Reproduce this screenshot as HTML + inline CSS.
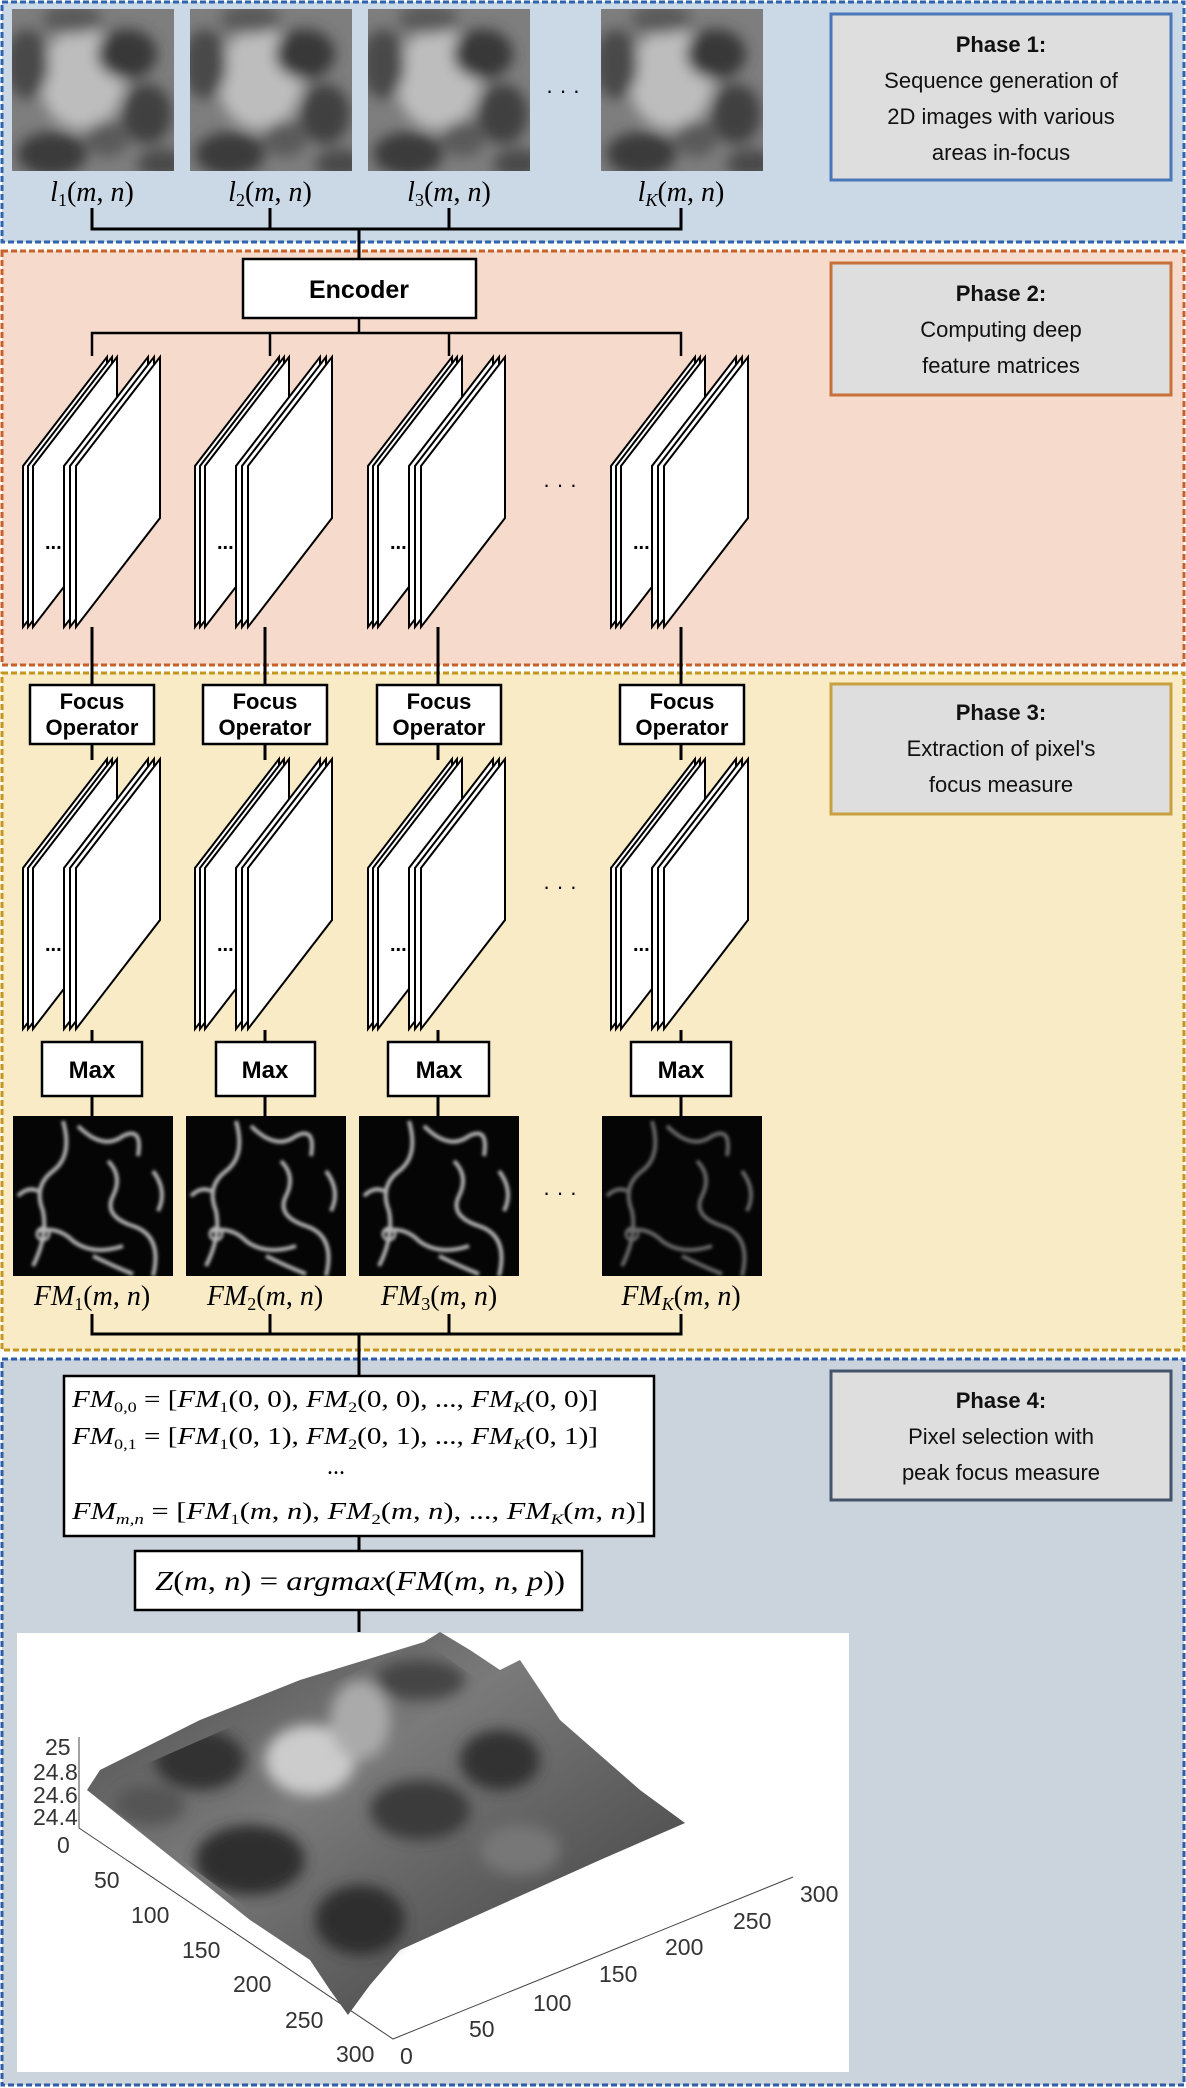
<!DOCTYPE html>
<html><head><meta charset="utf-8"><style>
html,body{margin:0;padding:0;background:#fff}
svg{display:block}
.ph{font-family:"Liberation Sans",sans-serif;font-size:22px;fill:#111;text-anchor:middle}
.phb{font-weight:bold}
.bx{font-family:"Liberation Sans",sans-serif;font-weight:bold;fill:#000;text-anchor:middle}
.m{font-family:"Liberation Serif",serif;font-style:italic;fill:#000}
.ax{font-family:"Liberation Sans",sans-serif;font-size:23px;fill:#333}
</style></head><body>
<svg width="1186" height="2088" viewBox="0 0 1186 2088" xmlns="http://www.w3.org/2000/svg">
<defs>
<filter id="bl" x="-10%" y="-10%" width="120%" height="120%"><feGaussianBlur stdDeviation="7"/></filter>
<filter id="bl2"><feGaussianBlur stdDeviation="1.6"/></filter>
<clipPath id="cm"><rect x="0" y="0" width="162" height="162"/></clipPath>
<g id="micro">
<g clip-path="url(#cm)">
<rect width="162" height="162" fill="#7e7e7e"/>
<g filter="url(#bl)">
<ellipse cx="70" cy="70" rx="42" ry="50" fill="#bdbdbd"/>
<ellipse cx="115" cy="45" rx="30" ry="25" fill="#383838"/>
<ellipse cx="15" cy="55" rx="22" ry="35" fill="#4a4a4a"/>
<ellipse cx="135" cy="105" rx="25" ry="30" fill="#404040"/>
<ellipse cx="40" cy="145" rx="35" ry="22" fill="#3a3a3a"/>
<ellipse cx="95" cy="130" rx="22" ry="18" fill="#5a5a5a"/>
<ellipse cx="150" cy="155" rx="25" ry="15" fill="#4a4a4a"/>
<ellipse cx="60" cy="10" rx="30" ry="15" fill="#5a5a5a"/>
</g></g></g>
<clipPath id="cf"><rect x="0" y="0" width="160" height="160"/></clipPath>
<g id="fmc" fill="none" stroke-width="4" filter="url(#bl2)">
<path d="M50 5 Q60 40 40 55 Q20 70 30 95 Q35 120 20 150"/>
<path d="M65 10 Q90 35 110 20 Q130 10 125 40"/>
<path d="M95 45 Q110 60 100 80 Q90 100 120 110 Q150 120 140 160"/>
<path d="M25 115 Q45 110 60 125 Q80 140 110 130"/>
<path d="M140 55 Q155 75 145 95"/>
<path d="M5 80 Q15 70 25 75"/>
<path d="M80 140 Q100 150 120 158"/>
<circle cx="30" cy="118" r="6" stroke-width="3"/>
</g>
<g id="fm"><g clip-path="url(#cf)"><rect width="160" height="160" fill="#050505"/><use href="#fmc" stroke="#b5b5b5"/></g></g>
<g id="fmk"><g clip-path="url(#cf)"><rect width="160" height="160" fill="#050505"/><use href="#fmc" stroke="#6a6a6a"/></g></g>
<g id="stack" fill="#fff" stroke="#000" stroke-width="2" stroke-linejoin="miter">
<path d="M84 0 L84 161 L0 270 L0 109 Z"/>
<path d="M89 0 L89 161 L5 270 L5 109 Z"/>
<path d="M94 0 L94 161 L10 270 L10 109 Z"/>
<path d="M125 0 L125 161 L41 270 L41 109 Z"/>
<path d="M131 0 L131 161 L47 270 L47 109 Z"/>
<path d="M137 0 L137 161 L53 270 L53 109 Z"/>
<text x="22" y="192" stroke="none" fill="#000" font-family="Liberation Sans" font-weight="bold" font-size="20">...</text>
</g>
<linearGradient id="sg" x1="0" y1="0" x2="1" y2="1">
<stop offset="0" stop-color="#4a4a4a"/><stop offset="0.4" stop-color="#7a7a7a"/><stop offset="1" stop-color="#3a3a3a"/>
</linearGradient>
<clipPath id="cs"><path d="M424 1642 L685 1823 L348 1983 L87 1790 Z"/></clipPath>
</defs>

<rect x="2" y="2" width="1182" height="240" fill="#cbd8e6" stroke="#2f63ad" stroke-width="3" stroke-dasharray="6,3"/>
<rect x="2" y="251" width="1182" height="414" fill="#f6dbcc" stroke="#c6612a" stroke-width="3" stroke-dasharray="6,3"/>
<rect x="2" y="673" width="1182" height="677" fill="#f9ebc6" stroke="#c4951f" stroke-width="3" stroke-dasharray="6,3"/>
<rect x="2" y="1359" width="1182" height="726" fill="#cbd3dd" stroke="#2e5ca8" stroke-width="3" stroke-dasharray="6,3"/>

<rect x="831" y="14" width="340" height="166" fill="#dedede" stroke="#4a77b8" stroke-width="3"/>
<text class="ph phb" x="1001" y="52">Phase 1:</text>
<text class="ph" x="1001" y="88">Sequence generation of</text>
<text class="ph" x="1001" y="124">2D images with various</text>
<text class="ph" x="1001" y="160">areas in-focus</text>

<rect x="831" y="263" width="340" height="132" fill="#dedede" stroke="#c8703a" stroke-width="3"/>
<text class="ph phb" x="1001" y="301">Phase 2:</text>
<text class="ph" x="1001" y="337">Computing deep</text>
<text class="ph" x="1001" y="373">feature matrices</text>

<rect x="831" y="684" width="340" height="130" fill="#dedede" stroke="#c9a040" stroke-width="3"/>
<text class="ph phb" x="1001" y="720">Phase 3:</text>
<text class="ph" x="1001" y="756">Extraction of pixel's</text>
<text class="ph" x="1001" y="792">focus measure</text>

<rect x="831" y="1371" width="340" height="129" fill="#dedede" stroke="#44546a" stroke-width="3"/>
<text class="ph phb" x="1001" y="1408">Phase 4:</text>
<text class="ph" x="1001" y="1444">Pixel selection with</text>
<text class="ph" x="1001" y="1480">peak focus measure</text>

<use href="#micro" x="12" y="9"/>
<use href="#micro" x="190" y="9"/>
<use href="#micro" x="368" y="9"/>
<use href="#micro" x="601" y="9"/>
<text x="563" y="98" font-family="Liberation Sans" font-size="22" text-anchor="middle">· · ·</text>
<g class="m" font-size="28" text-anchor="middle">
<text x="92" y="201">l<tspan font-size="18" dy="5" font-style="normal">1</tspan><tspan dy="-5" font-style="normal">(</tspan>m<tspan font-style="normal">, </tspan>n<tspan font-style="normal">)</tspan></text>
<text x="270" y="201">l<tspan font-size="18" dy="5" font-style="normal">2</tspan><tspan dy="-5" font-style="normal">(</tspan>m<tspan font-style="normal">, </tspan>n<tspan font-style="normal">)</tspan></text>
<text x="449" y="201">l<tspan font-size="18" dy="5" font-style="normal">3</tspan><tspan dy="-5" font-style="normal">(</tspan>m<tspan font-style="normal">, </tspan>n<tspan font-style="normal">)</tspan></text>
<text x="681" y="201">l<tspan font-size="18" dy="5">K</tspan><tspan dy="-5" font-style="normal">(</tspan>m<tspan font-style="normal">, </tspan>n<tspan font-style="normal">)</tspan></text>
</g>

<g stroke="#000" stroke-width="3" fill="none">
<path d="M92 208 V229 H681 V208 M270 208 V229 M449 208 V229 M359 229 V259"/>
<path d="M92 356 V333 H681 V356 M270 333 V356 M449 333 V356 M359 318 V333" stroke-width="2.5"/>
<path d="M92 627 V685 M265 627 V685 M438 627 V685 M681 627 V685"/>
<path d="M92 744 V760 M265 744 V760 M438 744 V760 M681 744 V760"/>
<path d="M92 1030 V1042 M265 1030 V1042 M438 1030 V1042 M681 1030 V1042"/>
<path d="M92 1096 V1116 M265 1096 V1116 M438 1096 V1116 M681 1096 V1116"/>
<path d="M92 1314 V1334 H681 V1314 M270 1314 V1334 M449 1314 V1334 M359 1334 V1376"/>
<path d="M359 1536 V1551 M359 1610 V1632"/>
</g>

<rect x="243" y="259" width="233" height="59" fill="#fff" stroke="#000" stroke-width="2.5"/>
<text class="bx" x="359" y="298" font-size="25">Encoder</text>

<use href="#stack" x="23" y="357"/>
<use href="#stack" x="195" y="357"/>
<use href="#stack" x="368" y="357"/>
<use href="#stack" x="611" y="357"/>
<text x="560" y="492" font-family="Liberation Sans" font-size="22" text-anchor="middle">· · ·</text>

<g fill="#fff" stroke="#000" stroke-width="2.5">
<rect x="30" y="685" width="124" height="59"/>
<rect x="203" y="685" width="124" height="59"/>
<rect x="377" y="685" width="124" height="59"/>
<rect x="620" y="685" width="124" height="59"/>
</g>
<g class="bx" font-size="22">
<text x="92" y="709">Focus</text><text x="92" y="735">Operator</text>
<text x="265" y="709">Focus</text><text x="265" y="735">Operator</text>
<text x="439" y="709">Focus</text><text x="439" y="735">Operator</text>
<text x="682" y="709">Focus</text><text x="682" y="735">Operator</text>
</g>

<use href="#stack" x="23" y="759"/>
<use href="#stack" x="195" y="759"/>
<use href="#stack" x="368" y="759"/>
<use href="#stack" x="611" y="759"/>
<text x="560" y="894" font-family="Liberation Sans" font-size="22" text-anchor="middle">· · ·</text>

<g fill="#fff" stroke="#000" stroke-width="2.5">
<rect x="42" y="1042" width="100" height="54"/>
<rect x="216" y="1042" width="99" height="54"/>
<rect x="388" y="1042" width="101" height="54"/>
<rect x="631" y="1042" width="100" height="54"/>
</g>
<g class="bx" font-size="24">
<text x="92" y="1078">Max</text><text x="265" y="1078">Max</text><text x="439" y="1078">Max</text><text x="681" y="1078">Max</text>
</g>

<use href="#fm" x="13" y="1116"/>
<use href="#fm" x="186" y="1116"/>
<use href="#fm" x="359" y="1116"/>
<use href="#fmk" x="602" y="1116"/>
<text x="560" y="1200" font-family="Liberation Sans" font-size="22" text-anchor="middle">· · ·</text>
<g class="m" font-size="28" text-anchor="middle">
<text x="92" y="1305">FM<tspan font-size="18" dy="5" font-style="normal">1</tspan><tspan dy="-5" font-style="normal">(</tspan>m<tspan font-style="normal">, </tspan>n<tspan font-style="normal">)</tspan></text>
<text x="265" y="1305">FM<tspan font-size="18" dy="5" font-style="normal">2</tspan><tspan dy="-5" font-style="normal">(</tspan>m<tspan font-style="normal">, </tspan>n<tspan font-style="normal">)</tspan></text>
<text x="439" y="1305">FM<tspan font-size="18" dy="5" font-style="normal">3</tspan><tspan dy="-5" font-style="normal">(</tspan>m<tspan font-style="normal">, </tspan>n<tspan font-style="normal">)</tspan></text>
<text x="681" y="1305">FM<tspan font-size="18" dy="5">K</tspan><tspan dy="-5" font-style="normal">(</tspan>m<tspan font-style="normal">, </tspan>n<tspan font-style="normal">)</tspan></text>
</g>

<rect x="64" y="1376" width="590" height="160" fill="#fff" stroke="#000" stroke-width="2.5"/>
<g class="m" font-size="24">
<text x="72" y="1407" textLength="526" lengthAdjust="spacingAndGlyphs">FM<tspan font-size="15" dy="5" font-style="normal">0,0</tspan><tspan dy="-5" font-style="normal"> = [</tspan>FM<tspan font-size="15" dy="5" font-style="normal">1</tspan><tspan dy="-5" font-style="normal">(0, 0), </tspan>FM<tspan font-size="15" dy="5" font-style="normal">2</tspan><tspan dy="-5" font-style="normal">(0, 0), ..., </tspan>FM<tspan font-size="15" dy="5">K</tspan><tspan dy="-5" font-style="normal">(0, 0)]</tspan></text>
<text x="72" y="1444" textLength="526" lengthAdjust="spacingAndGlyphs">FM<tspan font-size="15" dy="5" font-style="normal">0,1</tspan><tspan dy="-5" font-style="normal"> = [</tspan>FM<tspan font-size="15" dy="5" font-style="normal">1</tspan><tspan dy="-5" font-style="normal">(0, 1), </tspan>FM<tspan font-size="15" dy="5" font-style="normal">2</tspan><tspan dy="-5" font-style="normal">(0, 1), ..., </tspan>FM<tspan font-size="15" dy="5">K</tspan><tspan dy="-5" font-style="normal">(0, 1)]</tspan></text>
<text x="336" y="1474" font-style="normal" text-anchor="middle">...</text>
<text x="72" y="1519" textLength="574" lengthAdjust="spacingAndGlyphs">FM<tspan font-size="15" dy="5">m,n</tspan><tspan dy="-5" font-style="normal"> = [</tspan>FM<tspan font-size="15" dy="5" font-style="normal">1</tspan><tspan dy="-5" font-style="normal">(</tspan>m<tspan font-style="normal">, </tspan>n<tspan font-style="normal">), </tspan>FM<tspan font-size="15" dy="5" font-style="normal">2</tspan><tspan dy="-5" font-style="normal">(</tspan>m<tspan font-style="normal">, </tspan>n<tspan font-style="normal">), ..., </tspan>FM<tspan font-size="15" dy="5">K</tspan><tspan dy="-5" font-style="normal">(</tspan>m<tspan font-style="normal">, </tspan>n<tspan font-style="normal">)]</tspan></text>
</g>
<rect x="135" y="1551" width="447" height="59" fill="#fff" stroke="#000" stroke-width="2.5"/>
<text class="m" x="155" y="1590" font-size="27" textLength="410" lengthAdjust="spacingAndGlyphs">Z<tspan font-style="normal">(</tspan>m<tspan font-style="normal">, </tspan>n<tspan font-style="normal">) = </tspan>argmax<tspan font-style="normal">(</tspan>FM<tspan font-style="normal">(</tspan>m<tspan font-style="normal">, </tspan>n<tspan font-style="normal">, </tspan>p<tspan font-style="normal">))</tspan></text>

<rect x="17" y="1633" width="832" height="439" fill="#fff"/>
<g stroke="#444" stroke-width="1" fill="none">
<path d="M79 1737 V1828 L393 2039 L793 1877"/>
</g>
<path d="M424 1642 L440 1632 L470 1650 L500 1670 L520 1660 L560 1720 L640 1790 L685 1823 L600 1860 L500 1905 L400 1950 L370 1985 L348 2015 L330 1990 L310 1960 L250 1920 L87 1790 L100 1770 L200 1720 L300 1680 Z" fill="url(#sg)"/>
<g clip-path="url(#cs)" filter="url(#bl)">
<ellipse cx="310" cy="1760" rx="45" ry="35" fill="#ccc"/>
<ellipse cx="360" cy="1720" rx="30" ry="40" fill="#aaa"/>
<ellipse cx="200" cy="1760" rx="45" ry="30" fill="#333"/>
<ellipse cx="250" cy="1860" rx="55" ry="35" fill="#2e2e2e"/>
<ellipse cx="420" cy="1810" rx="50" ry="30" fill="#3a3a3a"/>
<ellipse cx="500" cy="1760" rx="40" ry="30" fill="#333"/>
<ellipse cx="360" cy="1920" rx="45" ry="35" fill="#2e2e2e"/>
<ellipse cx="150" cy="1805" rx="35" ry="20" fill="#555"/>
<ellipse cx="520" cy="1850" rx="40" ry="25" fill="#777"/>
<ellipse cx="420" cy="1680" rx="45" ry="20" fill="#444"/>
</g>
<g class="ax">
<text x="45" y="1755">25</text>
<text x="33" y="1780">24.8</text>
<text x="33" y="1803">24.6</text>
<text x="33" y="1825">24.4</text>
<text x="57" y="1853">0</text>
<text x="94" y="1888">50</text>
<text x="131" y="1923">100</text>
<text x="182" y="1958">150</text>
<text x="233" y="1992">200</text>
<text x="285" y="2028">250</text>
<text x="336" y="2062">300</text>
<text x="400" y="2064">0</text>
<text x="469" y="2037">50</text>
<text x="533" y="2011">100</text>
<text x="599" y="1982">150</text>
<text x="665" y="1955">200</text>
<text x="733" y="1929">250</text>
<text x="800" y="1902">300</text>
</g>
</svg>
</body></html>
